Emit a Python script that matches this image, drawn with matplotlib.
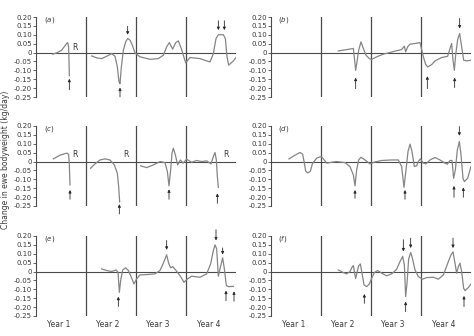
import numpy as np
import matplotlib
matplotlib.use("Agg")
import matplotlib.pyplot as plt

nan = np.nan

# ---- data (x in years from start, y in kg/day) ----
a_x = [0.333, 0.413, 0.513, 0.613, 0.633, 0.653, 0.667, nan,
       1.113, 1.213, 1.313, 1.413, 1.513, 1.58, 1.627, 1.66, 1.68, 1.707, 1.747, 1.793, 1.833, 1.88, 1.927, 1.98,
       2.08, 2.28, 2.447, 2.547, 2.613, 2.667, 2.733, 2.793, 2.847, 2.913, 2.993,
       3.08, 3.28, 3.48, 3.547, 3.6, 3.647, 3.747, 3.787, 3.82, 3.853, 3.947, 4.0]
a_y = [-0.009, -0.002, 0.013, 0.051, 0.056, 0.032, -0.13, nan,
       -0.019, -0.030, -0.034, -0.021, -0.006, -0.021, -0.081, -0.165, -0.175, -0.081, 0.013, 0.06, 0.079, 0.07, 0.041, -0.002,
       -0.024, -0.038, -0.034, -0.015, 0.032, 0.056, 0.019, 0.055, 0.066, 0.017, -0.058,
       -0.028, -0.034, -0.053, -0.006, 0.079, 0.1, 0.1, 0.079, -0.024, -0.071, -0.047, -0.028]

b_x = [1.347, 1.48, 1.647, 1.673, 1.693, 1.72, 1.753, 1.8, 1.847, 1.9, 1.967,
       2.013, 2.113, 2.247, 2.347, 2.48, 2.613, 2.667, 2.693, 2.733, 2.78, 2.88, 2.98,
       3.047, 3.093, 3.133, 3.213, 3.28, 3.413, 3.533, 3.58, 3.613, 3.64, 3.667, 3.693, 3.733, 3.773, 3.813, 3.853, 3.913, 4.0]
b_y = [0.009, 0.015, 0.023, -0.043, -0.1, -0.053, 0.013, 0.06, 0.023, -0.015, -0.034,
       -0.039, -0.024, -0.009, -0.002, 0.008, 0.017, 0.036, 0.004, 0.032, 0.047, 0.051, 0.056,
       -0.024, -0.066, -0.081, -0.068, -0.047, -0.028, -0.021, 0.023, 0.051, -0.043, -0.1, -0.015, 0.073, 0.107, 0.032, -0.043, -0.047, -0.043]

c_x = [0.347, 0.48, 0.58, 0.627, 0.653, 0.667, 0.68, nan,
       1.093, 1.18, 1.28, 1.38, 1.48, 1.567, 1.627, 1.653, 1.673, nan,
       2.093, 2.213, 2.347, 2.48, 2.58, 2.627, 2.66, 2.693, 2.72, 2.747, 2.787, 2.833, 2.887, 2.94,
       3.013, 3.113, 3.213, 3.313, 3.413, 3.5, 3.547, 3.58, 3.607, 3.627, 3.647]
c_y = [0.015, 0.036, 0.045, 0.047, 0.038, -0.019, -0.132, nan,
       -0.038, -0.013, 0.009, 0.015, 0.009, -0.019, -0.066, -0.141, -0.226, nan,
       -0.024, -0.034, -0.019, 0.0, -0.006, -0.056, -0.137, -0.047, 0.047, 0.075, 0.038, -0.019, 0.009, -0.009,
       0.013, -0.004, 0.006, 0.0, 0.004, -0.013, 0.028, 0.051, 0.009, -0.085, -0.145]

d_x = [0.36, 0.48, 0.58, 0.633, 0.667, 0.693, 0.733, 0.787, 0.827, 0.913,
       1.0, 1.047, 1.113, 1.213, 1.313, 1.48, 1.58, 1.647, 1.68, 1.713, 1.753, 1.8, 1.88, 1.98,
       2.08, 2.213, 2.413, 2.547, 2.613, 2.66, 2.7, 2.74, 2.78, 2.82, 2.867, 2.913, 2.947, 2.987,
       3.047, 3.1, 3.18, 3.28, 3.38, 3.48, 3.527, 3.58, 3.62, 3.653, 3.687, 3.727, 3.767, 3.8, 3.84, 3.867, 3.933, 4.0]
d_y = [0.015, 0.036, 0.051, 0.041, -0.009, -0.053, -0.064, -0.055, -0.013, 0.019,
       0.028, 0.015, -0.009, -0.004, 0.0, -0.006, -0.028, -0.075, -0.137, -0.047, 0.009, 0.024, 0.009, -0.013,
       -0.002, 0.006, 0.009, 0.009, -0.028, -0.145, -0.047, 0.056, 0.098, 0.056, -0.028, -0.024, 0.0, 0.015,
       -0.009, -0.013, 0.009, 0.023, 0.009, -0.009, -0.015, 0.006, 0.006, -0.094, -0.047, 0.066, 0.113, 0.038, -0.094, -0.113, -0.094, -0.028]

e_x = [1.313, 1.413, 1.513, 1.6, 1.64, 1.667, 1.693, 1.733, 1.793, 1.847, 1.913, 1.96,
       2.013, 2.08, 2.213, 2.38, 2.48, 2.547, 2.613, 2.653, 2.693, 2.733, 2.787, 2.88, 2.96,
       3.033, 3.113, 3.28, 3.413, 3.493, 3.547, 3.58, 3.613, 3.647, 3.687, 3.733, 3.767, 3.807, 3.853, 3.947]
e_y = [0.015, 0.006, 0.0, 0.009, -0.004, -0.117, -0.051, 0.009, 0.021, 0.006, -0.036, -0.07,
       -0.041, -0.019, -0.017, -0.013, 0.006, 0.047, 0.094, 0.047, 0.021, 0.028, 0.011, -0.023, -0.06,
       -0.041, -0.026, -0.032, -0.013, 0.043, 0.118, 0.15, 0.128, -0.026, 0.024, 0.077, 0.015, -0.079, -0.085, -0.083]

f_x = [1.347, 1.447, 1.513, 1.58, 1.62, 1.647, 1.673, 1.693, 1.72, 1.753, 1.787, 1.82, 1.86, 1.913, 1.967,
       2.013, 2.067, 2.133, 2.213, 2.313, 2.413, 2.513, 2.58, 2.633, 2.667, 2.693, 2.72, 2.753, 2.793, 2.833, 2.88, 2.947,
       3.027, 3.113, 3.247, 3.347, 3.447, 3.547, 3.6, 3.64, 3.68, 3.713, 3.747, 3.78, 3.813, 3.853, 3.88, 3.947, 4.0]
f_y = [0.009, -0.006, -0.013, 0.0, 0.024, 0.034, -0.009, -0.039, -0.006, 0.032, 0.043, -0.009, -0.075, -0.085, -0.07,
       -0.038, -0.006, 0.006, -0.009, -0.024, -0.013, 0.013, 0.056, 0.085, 0.038, -0.141, -0.066, 0.07, 0.107, 0.07, 0.009, -0.028,
       -0.043, -0.034, -0.032, -0.043, -0.019, 0.056, 0.094, 0.111, 0.047, -0.009, 0.028, 0.047, 0.0, -0.094, -0.107, -0.09, -0.07]

# arrows: (x, y_tail, y_head)
a_arrows = [(0.667, -0.209, -0.147), (1.68, -0.25, -0.197), (1.833, 0.148, 0.10),
            (3.647, 0.179, 0.126), (3.767, 0.179, 0.126)]
b_arrows = [(1.693, -0.203, -0.141), (3.127, -0.203, -0.133), (3.673, -0.197, -0.141), (3.773, 0.192, 0.135)]
c_arrows = [(0.68, -0.212, -0.16), (1.667, -0.295, -0.24), (2.66, -0.212, -0.156), (3.627, -0.235, -0.179)]
d_arrows = [(1.68, -0.207, -0.16), (2.68, -0.212, -0.16), (3.66, -0.201, -0.137),
            (3.847, -0.201, -0.145), (3.767, 0.197, 0.145)]
e_arrows = [(1.647, -0.197, -0.141), (2.613, 0.175, 0.122), (3.6, 0.235, 0.175),
            (3.733, 0.133, 0.096), (3.8, -0.164, -0.107), (3.96, -0.167, -0.111)]
f_arrows = [(1.867, -0.179, -0.126), (2.647, 0.179, 0.113), (2.693, -0.226, -0.169),
            (2.793, 0.188, 0.132), (3.64, 0.188, 0.132), (3.86, -0.197, -0.137)]

# "R" markers (x, y)
a_R = [(0.78, 0.026)]
c_R = [(0.78, 0.038), (1.8, 0.038), (3.8, 0.038)]

panel_letters = ["a", "b", "c", "d", "e", "f"]
yticks = [0.20, 0.15, 0.10, 0.05, 0, -0.05, -0.10, -0.15, -0.20, -0.25]
ytick_labels = ["0.20", "0.15", "0.10", "0.05", "0", "-0.05", "-0.10", "-0.15", "-0.20", "-0.25"]
year_labels = ["Year 1", "Year 2", "Year 3", "Year 4"]
year_centers = [0.45, 1.43, 2.43, 3.45]
year_bounds = [1, 2, 3]

panels = [(a_x, a_y, a_arrows, a_R), (b_x, b_y, b_arrows, []),
          (c_x, c_y, c_arrows, c_R), (d_x, d_y, d_arrows, []),
          (e_x, e_y, e_arrows, []), (f_x, f_y, f_arrows, [])]

# ---- figure ----
W, H = 474, 336
fig = plt.figure(figsize=(W / 100, H / 100), dpi=100)
lefts = [36 / W, 271 / W]
tops = [17, 126, 236]
axw = 200 / W
axh = 80 / H

axis_col = "#4a4a4a"
curve_col = "#858585"
arrow_col = "#2a2a2a"
text_col = "#3a3a3a"

for i, (xs, ys, arrows, rs) in enumerate(panels):
    row, col = divmod(i, 2)
    bottom = 1 - (tops[row] + 80) / H
    ax = fig.add_axes([lefts[col], bottom, axw, axh])
    ax.set_xlim(0, 4)
    ax.set_ylim(-0.25, 0.20)
    for s in ["top", "right", "bottom"]:
        ax.spines[s].set_visible(False)
    ax.spines["left"].set_color(axis_col)
    ax.spines["left"].set_linewidth(0.8)
    ax.set_yticks(yticks)
    ax.set_yticklabels(ytick_labels)
    ax.tick_params(axis="y", labelsize=5, length=2, width=0.6, pad=1,
                   color=axis_col, labelcolor=text_col)
    if row == 2:
        ax.set_xticks(year_centers)
        ax.set_xticklabels(year_labels)
        ax.tick_params(axis="x", length=0, labelsize=5.5, pad=3, labelcolor=text_col)
    else:
        ax.set_xticks([])
    ax.axhline(0, color=axis_col, lw=0.8)
    for xb in year_bounds:
        ax.axvline(xb, color=axis_col, lw=0.9)
    ax.plot(xs, ys, color=curve_col, lw=0.9)
    for (x, yt, yh) in arrows:
        ax.annotate("", xy=(x, yh), xytext=(x, yt),
                    arrowprops=dict(arrowstyle="-|>", color=arrow_col, lw=0.6,
                                    mutation_scale=4, shrinkA=0, shrinkB=0),
                    annotation_clip=False)
    for (x, y) in rs:
        ax.text(x, y, "R", fontsize=5.5, color=text_col, ha="center", va="center")
    ax.text(0.15, 0.185, r"($\mathit{" + panel_letters[i] + r"}$)", fontsize=5,
            color=text_col, va="center", ha="left")

fig.text(0.011, 0.525, "Change in ewe bodyweight (kg/day)", rotation=90,
         fontsize=5.5, color=text_col, ha="center", va="center")

fig.savefig("out.png", dpi=100)
